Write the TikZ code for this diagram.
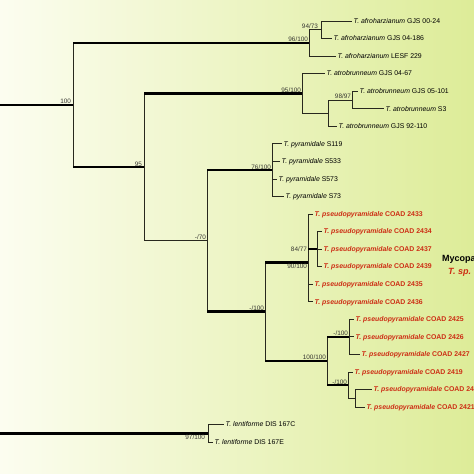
\documentclass[tikz,border=0pt]{standalone}
\usepackage{fontspec}
\setmainfont{Liberation Sans}

\definecolor{bgleft}{RGB}{252,253,240}
\definecolor{bgmid}{RGB}{241,246,210}
\definecolor{bgright}{RGB}{221,236,152}
\definecolor{branchcol}{RGB}{40,40,30}
\definecolor{newsp}{RGB}{205,45,20}
\definecolor{supcol}{RGB}{55,55,50}

\begin{document}
\begin{tikzpicture}[x=1pt, y=-1pt,
	br/.style={draw=branchcol, line width=0.9pt},
	thickbr/.style={draw=black, line width=2.4pt},
	leaf/.style={anchor=west, inner xsep=1.5pt, inner ysep=0pt, text height=5pt, text depth=0.5pt, font=\fontsize{6.9}{7}\selectfont},
	newleaf/.style={leaf, text=newsp, font=\fontsize{6.9}{7}\selectfont\bfseries},
	sup/.style={inner sep=0.8pt, text=supcol, font=\fontsize{6.4}{6.4}\selectfont}]
	
	% Background
	\useasboundingbox (0,0) rectangle (474,474);
	\clip (0,0) rectangle (474,474);
	\shade[left color=bgleft, middle color=bgmid, right color=bgright] (0,0) rectangle (474,474);
	
	% Internal nodes
	\coordinate (stem) at (0,105.05);
	\coordinate (root) at (73,105.05);
	\coordinate (afro) at (309,42.94);
	\coordinate (afroin) at (321,29.78);
	\coordinate (n95) at (144,167.16);
	\coordinate (atro) at (302,93.4);
	\coordinate (atroa) at (328,113.14);
	\coordinate (atrob) at (352,99.98);
	\coordinate (n70) at (207,240.93);
	\coordinate (pyr) at (272,170.18);
	\coordinate (pseu) at (265,311.67);
	\coordinate (pseua) at (308,262.31);
	\coordinate (pseuaa) at (317,249.15);
	\coordinate (pseub) at (327,361.03);
	\coordinate (pseuba) at (349,336.9);
	\coordinate (pseubb) at (348,385.16);
	\coordinate (pseubbb) at (355,398.33);
	\coordinate (outstem) at (0,433.43);
	\coordinate (lent) at (208,433.43);
	
	% T. afroharzianum
	\node[leaf] (a1) at (352,21.0) {\textit{T. afroharzianum} GJS 00-24};
	\node[leaf] (a2) at (332,38.55) {\textit{T. afroharzianum} GJS 04-186};
	\node[leaf] (a3) at (336,56.1) {\textit{T. afroharzianum} LESF 229};
	
	% T. atrobrunneum
	\node[leaf] (b1) at (325,73.65) {\textit{T. atrobrunneum} GJS 04-67};
	\node[leaf] (b2) at (358,91.2) {\textit{T. atrobrunneum} GJS 05-101};
	\node[leaf] (b3) at (384,108.75) {\textit{T. atrobrunneum} S3};
	\node[leaf] (b4) at (337,126.3) {\textit{T. atrobrunneum} GJS 92-110};
	
	% T. pyramidale
	\node[leaf] (p1) at (282,143.85) {\textit{T. pyramidale} S119};
	\node[leaf] (p2) at (280,161.4) {\textit{T. pyramidale} S533};
	\node[leaf] (p3) at (277,178.95) {\textit{T. pyramidale} S573};
	\node[leaf] (p4) at (284,196.5) {\textit{T. pyramidale} S73};
	
	% T. pseudopyramidale (new species)
	\node[newleaf] (c1) at (313,214.05) {\textit{T. pseudopyramidale} COAD 2433};
	\node[newleaf] (c2) at (322,231.6) {\textit{T. pseudopyramidale} COAD 2434};
	\node[newleaf] (c3) at (322,249.15) {\textit{T. pseudopyramidale} COAD 2437};
	\node[newleaf] (c4) at (322,266.7) {\textit{T. pseudopyramidale} COAD 2439};
	\node[newleaf] (c5) at (313,284.25) {\textit{T. pseudopyramidale} COAD 2435};
	\node[newleaf] (c6) at (313,301.8) {\textit{T. pseudopyramidale} COAD 2436};
	\node[newleaf] (c7) at (354,319.35) {\textit{T. pseudopyramidale} COAD 2425};
	\node[newleaf] (c8) at (354,336.9) {\textit{T. pseudopyramidale} COAD 2426};
	\node[newleaf] (c9) at (360,354.45) {\textit{T. pseudopyramidale} COAD 2427};
	\node[newleaf] (c10) at (353,372.0) {\textit{T. pseudopyramidale} COAD 2419};
	\node[newleaf] (c11) at (372,389.55) {\textit{T. pseudopyramidale} COAD 24};
	\node[newleaf] (c12) at (365,407.1) {\textit{T. pseudopyramidale} COAD 2421};
	
	% T. lentiforme (outgroup)
	\node[leaf] (o1) at (224,424.65) {\textit{T. lentiforme} DIS 167C};
	\node[leaf] (o2) at (213,442.2) {\textit{T. lentiforme} DIS 167E};
	
	% Branches
	\draw[br] (root) |- (afro);
	\draw[br] (root) |- (n95);
	\draw[br] (afro) |- (afroin);
	\draw[br] (afro) |- (a3.west);
	\draw[br] (afroin) |- (a1.west);
	\draw[br] (afroin) |- (a2.west);
	\draw[br] (n95) |- (atro);
	\draw[br] (n95) |- (n70);
	\draw[br] (atro) |- (b1.west);
	\draw[br] (atro) |- (atroa);
	\draw[br] (atroa) |- (atrob);
	\draw[br] (atroa) |- (b4.west);
	\draw[br] (atrob) |- (b2.west);
	\draw[br] (atrob) |- (b3.west);
	\draw[br] (n70) |- (pyr);
	\draw[br] (n70) |- (pseu);
	\foreach \p in {p1,p2,p3,p4}
		\draw[br] (pyr) |- (\p.west);
	\draw[br] (pseu) |- (pseua);
	\draw[br] (pseu) |- (pseub);
	\foreach \c in {c1,c5,c6}
		\draw[br] (pseua) |- (\c.west);
	\draw[br] (pseua) |- (pseuaa);
	\foreach \c in {c2,c3,c4}
		\draw[br] (pseuaa) |- (\c.west);
	\draw[br] (pseub) |- (pseuba);
	\draw[br] (pseub) |- (pseubb);
	\foreach \c in {c7,c8,c9}
		\draw[br] (pseuba) |- (\c.west);
	\draw[br] (pseubb) |- (c10.west);
	\draw[br] (pseubb) |- (pseubbb);
	\draw[br] (pseubbb) |- (c11.west);
	\draw[br] (pseubbb) |- (c12.west);
	\draw[br] (lent) |- (o1.west);
	\draw[br] (lent) |- (o2.west);
	
	% Well supported branches (bold)
	\draw[thickbr] (stem) -- (root);
	\draw[thickbr] (root |- afro) -- (afro);
	\draw[thickbr] (root |- n95) -- (n95);
	\draw[thickbr] (n95 |- atro) -- (atro);
	\draw[thickbr] (n70 |- pyr) -- (pyr);
	\draw[thickbr] (n70 |- pseu) -- (pseu);
	\draw[thickbr] (pseu |- pseua) -- (pseua);
	\draw[thickbr] (pseua |- pseuaa) -- (pseuaa);
	\draw[thickbr] (pseu |- pseub) -- (pseub);
	\draw[thickbr] (pseub |- pseuba) -- (pseuba);
	\draw[thickbr] (pseub |- pseubb) -- (pseubb);
	\draw[thickbr] (outstem) -- (lent);
	
	% Support values
	\node[sup, anchor=south east, xshift=-1pt] (s1) at (root) {100};
	\node[sup, anchor=south east] (s2) at (afro) {96/100};
	\node[sup, anchor=south east, xshift=-2pt] (s3) at (afroin) {94/73};
	\node[sup, anchor=south east] (s4) at (atro) {95/100};
	\node[sup, anchor=south east] (s5) at (atrob) {98/97};
	\node[sup, anchor=south east, xshift=-1pt] (s6) at (n95) {95};
	\node[sup, anchor=south east] (s7) at (pyr) {76/100};
	\node[sup, anchor=south east] (s8) at (n70) {-/70};
	\node[sup, anchor=east] (s9) at (pseua |- pseuaa) {84/77};
	\node[sup, anchor=north east, yshift=-1pt] (s10) at (pseua) {90/100};
	\node[sup, anchor=south east] (s11) at (pseu) {-/100};
	\node[sup, anchor=south east] (s12) at (pseub) {100/100};
	\node[sup, anchor=south east] (s13) at (pseuba) {-/100};
	\node[sup, anchor=south east] (s14) at (pseubb) {-/100};
	\node[sup, anchor=north east, xshift=-2pt, yshift=-0.5pt] (s15) at (lent) {97/100};
	
	% Clade label
	\node[anchor=west, inner sep=0pt, font=\fontsize{9}{9}\selectfont\bfseries] (clade) at (442,259) {Mycopa};
	\node[anchor=west, inner sep=0pt, text=newsp, font=\fontsize{9}{9}\selectfont\bfseries\itshape] (sp) at (448,272.5) {T. sp.};
	
\end{tikzpicture}
\end{document}
